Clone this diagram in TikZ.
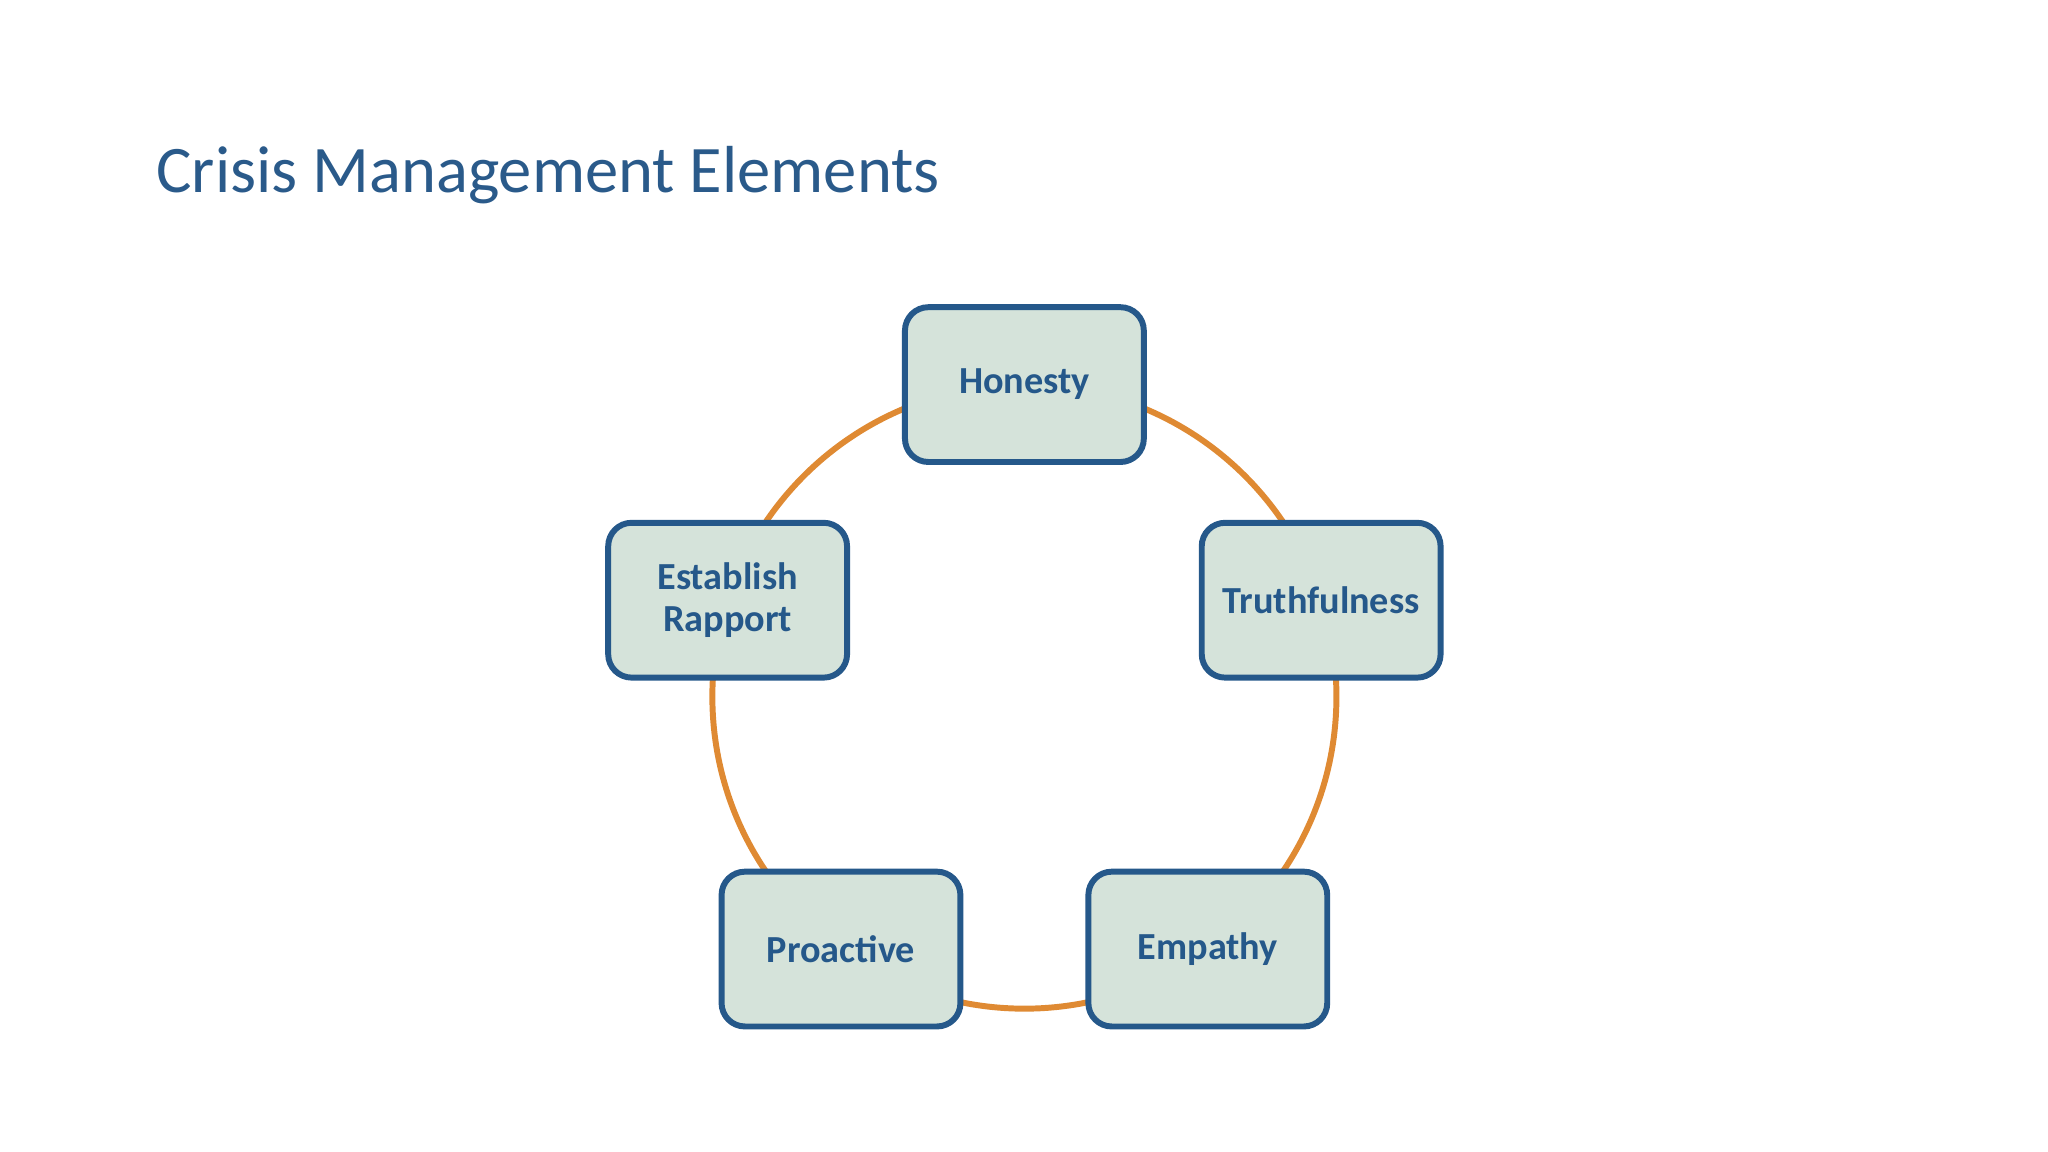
\documentclass[tikz,border=0pt]{standalone}
\usepackage{fontspec}
\setmainfont{Carlito}
\usetikzlibrary{calc}

\definecolor{titleblue}{HTML}{2A5A8A}
\definecolor{boxblue}{HTML}{25588A}
\definecolor{boxfill}{HTML}{D5E3DA}
\definecolor{ringorange}{HTML}{DF8A33}

\begin{document}
\begin{tikzpicture}[
  element/.style={draw=boxblue, line width=2.8pt, rounded corners=11pt, fill=boxfill,
    minimum width=3.95cm, minimum height=2.56cm, align=center, text=boxblue,
    font=\fontsize{18}{20}\selectfont\bfseries},
  ringline/.style={draw=ringorange, line width=2.8pt},
  heading/.style={anchor=base west, inner sep=0pt, text=titleblue,
    font=\fontsize{31.3}{37}\selectfont}
]
\useasboundingbox (0,0) rectangle (33.867,19.05);

\node[heading] (title) at (2.58,15.87) {Crisis Management Elements};

% ring behind the five elements
\coordinate (ring) at (16.94,7.53);
\draw[ringline] (ring) circle (5.16);

\node[element] (honesty) at ($(ring)+(90:5.16)$) {Honesty};
\node[element] (truth) at ($(ring)+(18:5.16)$) {Truthfulness};
\node[element] (empathy) at ($(ring)+(-54:5.16)$) {Empathy};
\node[element] (proactive) at ($(ring)+(-126:5.16)$) {Proactive};
\node[element] (rapport) at ($(ring)+(162:5.16)$) {Establish\\Rapport};

\end{tikzpicture}
\end{document}
